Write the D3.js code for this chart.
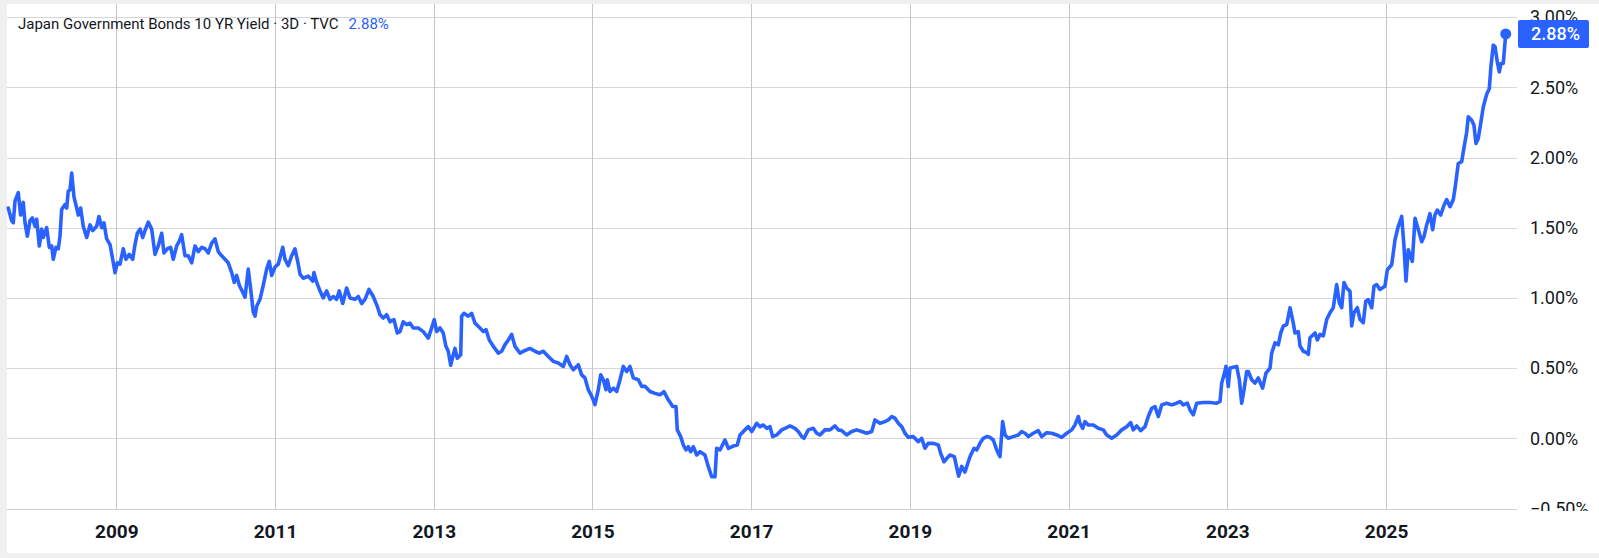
<!DOCTYPE html>
<html><head><meta charset="utf-8">
<script src="https://cdn.jsdelivr.net/npm/d3@7"></script>
<style>
html,body{margin:0;padding:0;background:#f0f0f0;}
svg{display:block;}
</style></head><body>
<svg id="c" width="1599" height="558"></svg>
<script>
// ---- data (decimal years, yield %) ----
const dates = [
2007.639,2007.682,2007.702,2007.724,2007.765,2007.795,2007.828,2007.850,2007.879,2007.913,2007.942,2007.976,2007.997,
2008.030,2008.060,2008.080,2008.123,2008.156,2008.186,2008.206,2008.240,2008.269,2008.291,2008.312,2008.354,2008.375,
2008.395,2008.417,2008.438,2008.467,2008.501,2008.521,2008.551,2008.584,2008.627,2008.669,2008.703,2008.753,2008.782,
2008.816,2008.845,2008.879,2008.921,2008.955,2008.984,2009.013,2009.047,2009.088,2009.122,2009.164,2009.207,2009.236,
2009.265,2009.299,2009.333,2009.362,2009.403,2009.446,2009.488,2009.529,2009.572,2009.601,2009.643,2009.685,2009.718,
2009.761,2009.794,2009.824,2009.866,2009.907,2009.950,2009.992,2010.033,2010.076,2010.118,2010.159,2010.202,2010.244,
2010.285,2010.328,2010.370,2010.411,2010.454,2010.487,2010.517,2010.550,2010.593,2010.622,2010.663,2010.694,2010.726,
2010.748,2010.769,2010.811,2010.852,2010.895,2010.928,2010.958,2011.000,2011.041,2011.097,2011.126,2011.167,2011.210,
2011.252,2011.293,2011.315,
2011.356,2011.419,2011.475,2011.491,2011.525,2011.567,2011.608,2011.651,2011.693,2011.734,2011.777,2011.810,2011.853,
2011.903,2011.945,2012.008,2012.049,2012.092,2012.134,2012.184,2012.238,2012.289,2012.323,2012.364,2012.407,2012.449,
2012.499,2012.541,2012.575,2012.616,2012.659,2012.701,2012.742,2012.805,2012.868,2012.931,2012.974,2013.007,2013.037,
2013.079,2013.120,2013.154,2013.183,2013.214,2013.246,2013.268,2013.297,2013.340,2013.352,2013.381,2013.436,2013.478,
2013.520,2013.583,2013.625,2013.659,2013.700,2013.751,2013.814,2013.856,2013.898,2013.940,2013.982,2014.024,2014.087,
2014.129,2014.213,2014.276,2014.330,2014.381,2014.444,2014.507,2014.570,2014.633,2014.675,2014.717,
2014.759,2014.822,2014.864,2014.906,2014.948,2014.990,2015.032,2015.074,2015.104,2015.137,2015.171,2015.187,2015.221,
2015.263,2015.306,2015.347,2015.389,2015.432,2015.473,
2015.515,2015.578,2015.621,2015.662,2015.725,2015.788,2015.851,2015.901,2015.956,2016.011,2016.053,2016.069,2016.112,
2016.145,2016.179,2016.208,2016.238,2016.271,2016.314,2016.355,2016.418,2016.460,2016.503,2016.544,2016.565,2016.607,
2016.670,2016.712,2016.775,2016.825,2016.859,2016.922,2016.964,2017.007,2017.070,2017.111,2017.153,2017.196,2017.237,
2017.271,2017.322,2017.385,2017.426,2017.489,2017.552,2017.594,2017.637,2017.666,2017.720,2017.783,2017.826,2017.867,
2017.930,2017.993,2018.056,2018.098,2018.141,2018.204,2018.267,2018.330,2018.393,2018.456,2018.519,2018.560,2018.623,
2018.686,2018.728,2018.771,2018.812,2018.854,2018.897,2018.938,2018.980,2019.043,2019.106,2019.149,2019.190,2019.232,
2019.295,2019.358,2019.388,2019.430,2019.484,2019.505,
2019.560,2019.614,2019.653,2019.694,2019.757,2019.808,2019.842,2019.883,2019.925,2019.968,2020.009,2020.051,2020.094,
2020.135,2020.169,2020.198,2020.240,2020.303,2020.366,2020.409,2020.451,2020.492,2020.555,2020.618,2020.661,2020.724,
2020.787,2020.850,2020.913,2020.976,2021.039,2021.080,2021.122,2021.143,2021.177,2021.206,2021.248,2021.311,2021.374,
2021.437,2021.480,2021.543,2021.606,2021.669,2021.732,2021.782,2021.815,2021.858,2021.908,2021.963,2022.004,2022.047,
2022.089,2022.130,2022.173,2022.236,2022.299,2022.362,2022.404,2022.445,2022.496,2022.530,2022.571,2022.614,2022.697,
2022.782,2022.866,2022.908,2022.929,2022.958,2022.983,2023.012,2023.034,2023.118,2023.151,2023.181,2023.210,2023.244,
2023.264,2023.307,2023.348,2023.390,2023.445,2023.487,2023.538,2023.559,2023.601,2023.642,2023.673,2023.706,2023.748,
2023.790,2023.831,2023.853,2023.894,2023.916,2023.957,2024.000,2024.020,2024.042,2024.105,2024.134,2024.168,2024.209,
2024.252,2024.294,2024.335,2024.378,2024.411,2024.441,2024.470,2024.504,2024.546,2024.567,2024.596,2024.638,2024.672,
2024.713,2024.744,2024.776,2024.819,2024.848,2024.882,2024.923,2024.986,2025.016,2025.071,2025.113,2025.154,2025.197,
2025.226,2025.251,2025.280,2025.310,2025.331,2025.365,2025.407,2025.449,2025.478,2025.512,2025.553,2025.587,2025.616,
2025.646,2025.688,2025.730,2025.764,2025.806,2025.847,2025.869,2025.910,2025.953,2025.973,2026.016,2026.036,2026.079,
2026.108,2026.133,2026.162,2026.192,2026.225,2026.268,2026.301,2026.322,2026.351,2026.373,2026.402,2026.427,2026.448,
2026.477,2026.508
];
const yields = [
1.64,1.55,1.535,1.69,1.75,1.59,1.68,1.535,1.44,1.55,1.57,1.51,1.56,
1.37,1.49,1.43,1.50,1.36,1.37,1.275,1.36,1.35,1.44,1.63,1.665,1.64,
1.76,1.77,1.89,1.72,1.64,1.59,1.64,1.51,1.43,1.52,1.48,1.51,1.58,
1.50,1.535,1.42,1.38,1.275,1.18,1.25,1.24,1.35,1.275,1.31,1.275,1.38,
1.46,1.49,1.43,1.48,1.54,1.49,1.31,1.37,1.46,1.32,1.35,1.36,1.275,
1.37,1.405,1.45,1.30,1.30,1.25,1.37,1.33,1.36,1.35,1.32,1.39,1.42,
1.33,1.30,1.275,1.25,1.18,1.11,1.16,1.09,1.04,1.005,1.205,1.06,0.90,
0.87,0.94,0.99,1.09,1.205,1.26,1.16,1.22,1.24,1.36,1.275,1.23,1.30,
1.35,1.24,1.17,
1.14,1.155,1.12,1.18,1.11,1.05,1.00,1.05,0.99,1.01,0.99,1.05,0.96,
1.07,1.00,0.99,1.01,0.96,0.99,1.06,1.01,0.94,0.88,0.857,0.88,0.83,
0.845,0.75,0.76,0.83,0.81,0.82,0.786,0.786,0.76,0.714,0.786,0.845,0.76,
0.786,0.75,0.655,0.62,0.52,0.595,0.64,0.57,0.595,0.87,0.89,0.87,0.89,
0.82,0.786,0.76,0.774,0.70,0.655,0.607,0.62,0.667,0.70,0.74,0.655,0.607,
0.62,0.64,0.62,0.607,0.62,0.583,0.548,0.536,0.512,0.583,0.524,
0.488,0.524,0.452,0.43,0.346,0.30,0.24,0.346,0.452,0.417,0.346,0.417,0.334,
0.357,0.334,0.417,0.512,0.476,0.512,
0.43,0.417,0.37,0.37,0.333,0.32,0.31,0.333,0.274,0.226,0.226,0.06,0.012,
-0.048,-0.083,-0.06,-0.095,-0.06,-0.119,-0.095,-0.119,-0.202,-0.274,-0.274,-0.071,-0.083,
-0.012,-0.071,-0.055,-0.048,0.024,0.06,0.083,0.048,0.107,0.083,0.095,0.071,0.083,
0.012,0.024,0.06,0.071,0.088,0.071,0.048,0.012,0.0,0.06,0.071,0.036,0.024,
0.06,0.06,0.088,0.06,0.055,0.024,0.048,0.06,0.048,0.036,0.048,0.131,0.107,
0.119,0.131,0.155,0.143,0.107,0.083,0.036,0.007,0.012,-0.024,0.0,-0.071,-0.036,
-0.036,-0.048,-0.107,-0.167,-0.131,-0.119,
-0.131,-0.27,-0.20,-0.24,-0.131,-0.071,-0.083,-0.036,0.0,0.012,0.007,-0.012,-0.083,
-0.131,0.119,0.024,0.0,0.012,0.024,0.048,0.036,0.012,0.036,0.055,0.012,0.04,
0.036,0.024,0.007,0.036,0.06,0.095,0.155,0.107,0.071,0.119,0.095,0.095,0.071,
0.06,0.024,0.0,0.024,0.06,0.083,0.112,0.06,0.088,0.055,0.083,0.155,0.214,
0.226,0.155,0.238,0.25,0.238,0.25,0.262,0.238,0.25,0.202,0.167,0.25,0.255,
0.255,0.25,0.262,0.393,0.452,0.512,0.369,0.50,0.512,0.417,0.25,0.345,0.476,
0.476,0.417,0.393,0.43,0.357,0.464,0.50,0.607,0.68,0.666,0.75,0.80,0.81,
0.93,0.82,0.75,0.76,0.657,0.62,0.61,0.598,0.716,0.75,0.70,0.74,0.73,
0.846,0.894,0.93,1.095,0.965,0.93,1.11,1.07,1.047,0.80,0.894,0.93,0.846,
0.823,0.976,0.988,0.93,1.083,1.095,1.06,1.083,1.20,1.236,1.414,1.51,1.58,
1.366,1.12,1.343,1.295,1.26,1.567,1.485,1.40,1.437,1.52,1.60,1.485,1.59,
1.626,1.59,1.66,1.70,1.65,1.70,1.78,1.957,1.97,2.04,2.18,2.29,2.265,
2.23,2.10,2.135,2.24,2.36,2.45,2.49,2.65,2.80,2.79,2.68,2.61,2.67,
2.67,2.88
];
const xTicks = [2009, 2011, 2013, 2015, 2017, 2019, 2021, 2023, 2025];
const yTicks = [-0.5, 0, 0.5, 1, 1.5, 2, 2.5, 3];
const titleText = "Japan Government Bonds 10 YR Yield \u00b7 3D \u00b7 TVC";

// ---- drawing ----
const W = 1599, H = 558;
const BLUE = "#2962ff", TXT = "#131722";
const svg = d3.select("#c");
const L = 7, R = 1517, T = 4, B = 509;

svg.append("rect").attr("x", L).attr("y", T).attr("width", W - L).attr("height", 553 - T).attr("fill", "#ffffff");

const x = d3.scaleLinear().domain([2007.623, 2026.650]).range([L, R]);
const y = d3.scaleLinear().domain([-0.5, 3]).range([508.5, 17.1]);

// grid
const grid = svg.append("g");
grid.selectAll("line.h").data(yTicks).join("line").attr("class", "h")
  .attr("x1", L).attr("x2", R)
  .attr("y1", d => Math.round(y(d)) + 0.5).attr("y2", d => Math.round(y(d)) + 0.5)
  .attr("stroke", "#d6d6d6").attr("stroke-width", 1);
grid.selectAll("line.v").data(xTicks).join("line").attr("class", "v")
  .attr("x1", d => Math.round(x(d)) + 0.5).attr("x2", d => Math.round(x(d)) + 0.5)
  .attr("y1", T).attr("y2", B)
  .attr("stroke", "#c6c6c6").attr("stroke-width", 1);
svg.append("line").attr("x1", L).attr("x2", R).attr("y1", B + 0.5).attr("y2", B + 0.5)
  .attr("stroke", "#d0d0d0");

// x axis labels
const xa = svg.append("g").attr("transform", `translate(0,${B})`)
  .call(d3.axisBottom(x).tickValues(xTicks).tickFormat(d3.format("d")).tickSize(0).tickPadding(16));
xa.select(".domain").remove();
xa.selectAll("text").attr("font-family", "Roboto, 'Noto Sans', sans-serif")
  .attr("font-size", 19).attr("font-weight", 700).attr("fill", TXT);

// y axis labels (clipped to plot)
svg.append("clipPath").attr("id", "yclip").append("rect")
  .attr("x", R).attr("y", 0).attr("width", W - R).attr("height", B + 2);
const ya = svg.append("g").attr("clip-path", "url(#yclip)").append("g")
  .attr("transform", `translate(1530,0)`)
  .call(d3.axisRight(y).tickValues(yTicks)
    .tickFormat(d => (d < 0 ? "\u2212" : "") + Math.abs(d).toFixed(2) + "%")
    .tickSize(0).tickPadding(0));
ya.select(".domain").remove();
ya.selectAll("text").attr("font-family", "Roboto, 'Noto Sans', sans-serif")
  .attr("font-size", 18).attr("fill", TXT).attr("text-anchor", "start");

// line
const idx = d3.range(dates.length);
const line = d3.line().x(i => x(dates[i])).y(i => y(yields[i])).curve(d3.curveLinear);
svg.append("path").datum(idx).attr("d", line)
  .attr("fill", "none").attr("stroke", BLUE).attr("stroke-width", 3.6)
  .attr("stroke-linejoin", "round").attr("stroke-linecap", "round");

// last point
const li = dates.length - 1;
const lastTxt = yields[li].toFixed(2) + "%";
svg.append("circle").attr("cx", x(dates[li])).attr("cy", y(yields[li])).attr("r", 5.5).attr("fill", BLUE);

// price label
const py = y(yields[li]);
svg.append("rect").attr("x", 1518).attr("y", py - 14).attr("width", 71).attr("height", 28)
  .attr("fill", BLUE).attr("rx", 2);
svg.append("text").attr("x", 1531).attr("y", py).attr("dy", "0.35em")
  .attr("font-family", "Roboto, 'Noto Sans', sans-serif").attr("font-size", 18).attr("font-weight", 500)
  .attr("fill", "#ffffff").text(lastTxt);

// title
const t1 = svg.append("text").attr("x", 18).attr("y", 29)
  .attr("font-family", "Roboto, 'Noto Sans', sans-serif").attr("font-size", 15).attr("fill", TXT)
  .text(titleText);
const tl = t1.node().getComputedTextLength();
svg.append("text").attr("x", 18 + tl + 10).attr("y", 29)
  .attr("font-family", "Roboto, 'Noto Sans', sans-serif").attr("font-size", 15).attr("fill", BLUE)
  .text(lastTxt);
</script>
</body></html>
